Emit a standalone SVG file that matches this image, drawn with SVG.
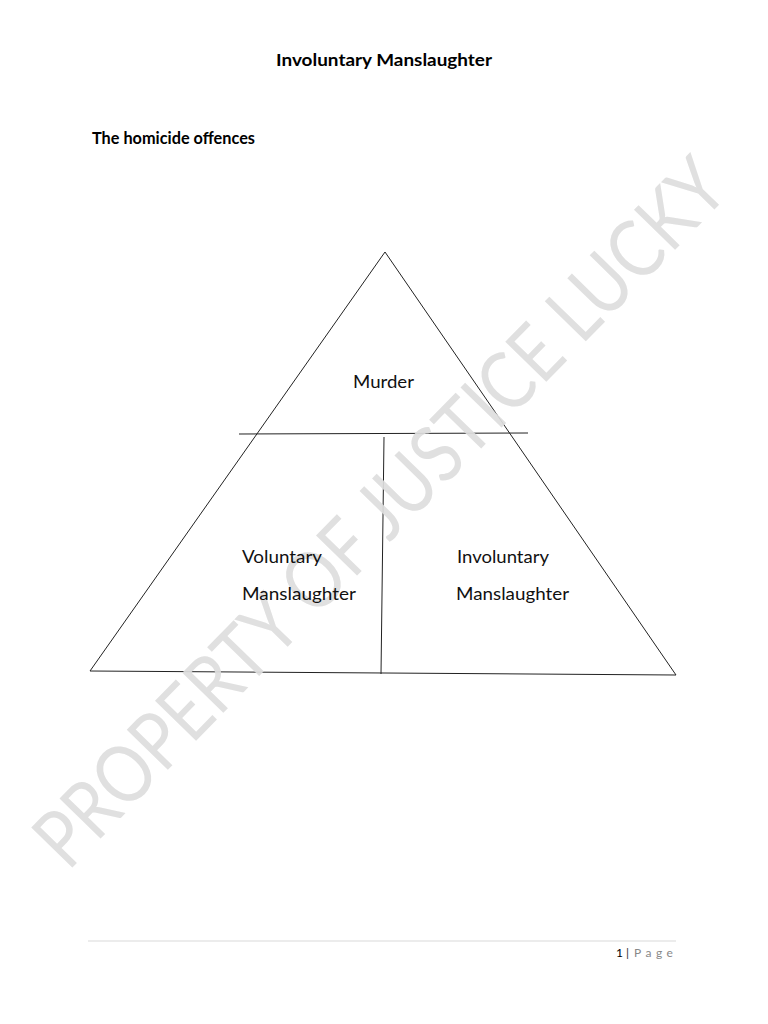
<svg xmlns="http://www.w3.org/2000/svg" width="768" height="1024" viewBox="0 0 768 1024">
<style>
  .ln { stroke: #222; stroke-width: 1; fill: none; }
  .hd { font-family: Lato, "Open Sans", "Liberation Sans", sans-serif; font-weight: bold; font-size: 17px; fill: #000; }
  .lb { font-family: Lato, "Open Sans", "Liberation Sans", sans-serif; font-size: 17px; fill: #111; }
  .wm { font-family: Lato, "Open Sans", "Liberation Sans", sans-serif; font-weight: normal; font-size: 80px; fill: #dedede; }
  .ft { font-family: Lato, "Open Sans", "Liberation Sans", sans-serif; font-size: 12px; }
</style>
<rect width="768" height="1024" fill="#fff"/>

<text class="hd" x="276" y="66" textLength="216" lengthAdjust="spacingAndGlyphs">Involuntary Manslaughter</text>
<text class="hd" x="92" y="144" font-size="15" textLength="163" lengthAdjust="spacingAndGlyphs">The homicide offences</text>

<g id="connectors">
  <polyline class="ln" points="90,671 385,252 676,675"/>
  <line class="ln" x1="90" y1="671" x2="676" y2="675"/>
  <line class="ln" x1="239" y1="434" x2="528" y2="433"/>
  <line class="ln" x1="384" y1="437" x2="381" y2="674"/>
</g>

<text class="wm" transform="translate(68,872) rotate(-45.7)" x="0" y="0" textLength="950" lengthAdjust="spacingAndGlyphs" opacity="0.92">PROPERTY OF JUSTICE LUCKY</text>

<g id="murder">
  <text class="lb" x="353" y="388" textLength="61" lengthAdjust="spacingAndGlyphs">Murder</text>
</g>
<g id="voluntary">
  <text class="lb" x="242" y="563" textLength="80" lengthAdjust="spacingAndGlyphs">Voluntary</text>
  <text class="lb" x="242" y="600" textLength="114" lengthAdjust="spacingAndGlyphs">Manslaughter</text>
</g>
<g id="involuntary">
  <text class="lb" x="457" y="563" textLength="92" lengthAdjust="spacingAndGlyphs">Involuntary</text>
  <text class="lb" x="456" y="600" textLength="113" lengthAdjust="spacingAndGlyphs">Manslaughter</text>
</g>

<line x1="88" y1="941" x2="676" y2="941" stroke="#d9d9d9" stroke-width="1"/>
<text class="ft" x="616" y="957"><tspan fill="#000">1</tspan><tspan fill="#333" dx="3">|</tspan><tspan fill="#888" dx="5" letter-spacing="4.5">Page</tspan></text>
</svg>
